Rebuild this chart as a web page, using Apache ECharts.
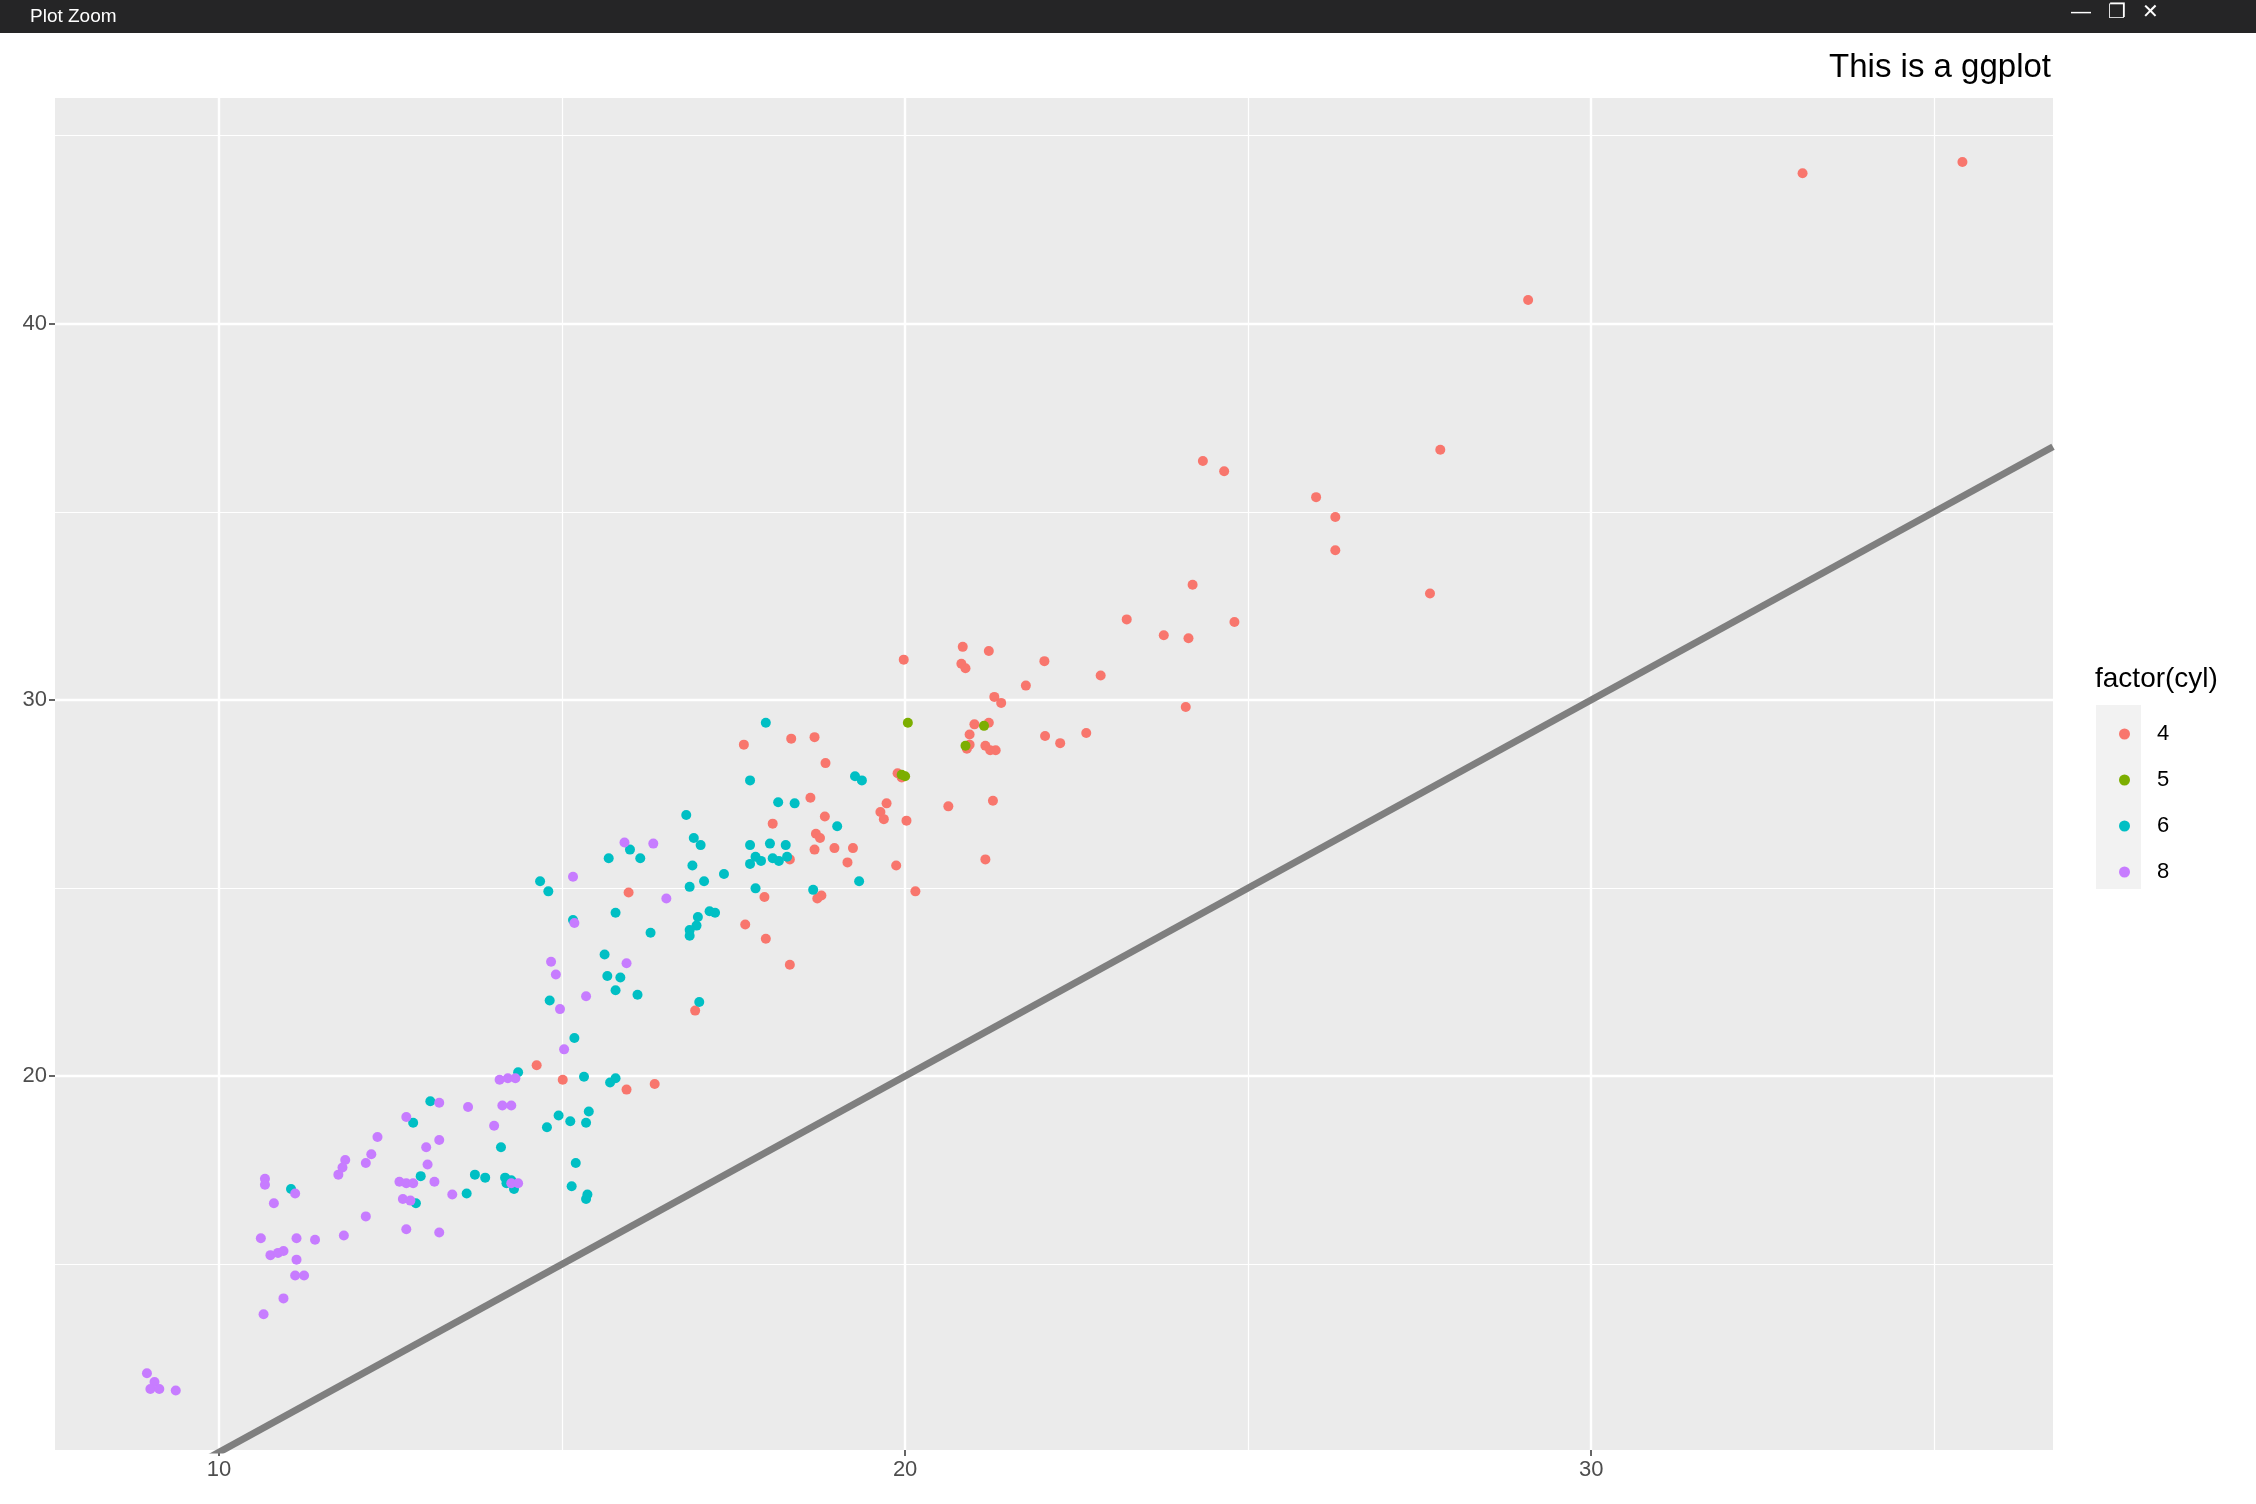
<!DOCTYPE html>
<html>
<head>
<meta charset="utf-8">
<script src="https://cdn.jsdelivr.net/npm/echarts@6/dist/echarts.min.js"></script>
<style>
  html, body { margin: 0; padding: 0; background: #fff; }
  #main { width: 2256px; height: 1504px; }
</style>
</head>
<body>
<div id="main"></div>
<script>
// 数据: x = cty, y = hwy (带抖动), 按 cyl 分组
var cyl4 = [[35.41,44.30],[33.08,44.00],[29.08,40.63],[27.80,36.65],[24.34,36.35],[24.65,36.08],[25.99,35.39],[26.27,34.86],
  [26.27,33.98],[27.65,32.83],[24.19,33.06],[23.23,32.14],[24.80,32.07],[23.77,31.72],[24.13,31.64],[22.85,30.65],[24.09,29.81],
  [19.98,31.07],[20.84,31.41],[21.22,31.30],[20.82,30.96],[20.88,30.84],[22.03,31.03],[21.76,30.38],[21.30,30.08],[21.40,29.92],
  [22.64,29.12],[22.04,29.04],[22.26,28.85],[21.01,29.35],[20.94,29.08],[21.22,29.39],[21.17,28.78],[21.32,28.66],[21.24,28.66],
  [20.94,28.81],[20.90,28.70],[17.65,28.81],[18.34,28.97],[18.68,29.01],[18.84,28.32],[19.89,28.05],[19.95,27.94],[21.28,27.32],
  [19.73,27.25],[19.64,27.02],[20.63,27.17],[20.02,26.79],[19.69,26.83],[18.62,27.40],[18.83,26.90],[18.07,26.71],[18.70,26.44],
  [18.76,26.33],[18.97,26.06],[19.24,26.06],[18.68,26.02],[18.32,25.76],[19.16,25.68],[19.87,25.60],[21.17,25.76],[20.15,24.91],
  [18.78,24.80],[18.72,24.72],[17.95,24.76],[15.97,24.88],[17.67,24.03],[17.97,23.65],[18.32,22.96],[16.94,21.74],[14.63,20.29],
  [15.01,19.90],[16.35,19.79],[15.94,19.64]];
var cyl5 = [[20.04,29.39],[20.00,27.97],[19.95,28.01],[20.88,28.78],[21.15,29.31]];
var cyl6 = [[17.97,29.39],[17.74,27.86],[18.15,27.28],[18.39,27.25],[19.27,27.97],[19.37,27.86],[19.01,26.64],[16.81,26.94],
  [16.92,26.33],[17.02,26.14],[17.74,26.14],[18.03,26.18],[18.26,26.14],[17.74,25.64],[17.82,25.83],[17.90,25.72],[18.07,25.79],
  [18.16,25.72],[18.28,25.83],[17.36,25.37],[17.07,25.18],[16.90,25.60],[17.82,24.99],[18.66,24.95],[19.33,25.18],[16.86,25.03],
  [15.99,26.02],[15.68,25.79],[16.14,25.79],[14.68,25.18],[14.80,24.91],[15.78,24.34],[15.16,24.15],[16.29,23.81],[16.98,24.23],
  [17.15,24.38],[17.23,24.34],[16.96,24.00],[16.86,23.73],[16.86,23.88],[15.62,23.23],[15.85,22.62],[15.66,22.66],[15.78,22.28],
  [16.10,22.16],[14.82,22.01],[17.00,21.97],[15.18,21.01],[14.36,20.10],[15.32,19.98],[15.78,19.94],[15.70,19.83],[14.95,18.95],
  [15.12,18.80],[15.39,19.06],[15.35,18.76],[14.78,18.64],[14.11,18.11],[15.20,17.69],[15.14,17.07],[15.37,16.85],[15.35,16.73],
  [12.83,18.76],[13.08,19.33],[12.94,17.34],[12.87,16.62],[11.05,17.00],[13.73,17.38],[13.88,17.30],[13.61,16.88],[14.17,17.30],
  [14.26,17.23],[14.30,17.00],[14.19,17.15]];
var cyl8 = [[15.91,26.21],[16.33,26.18],[16.52,24.72],[15.16,25.30],[15.18,24.07],[14.84,23.04],[14.91,22.70],[15.35,22.12],
  [14.97,21.78],[15.94,23.00],[15.03,20.71],[14.09,19.90],[14.21,19.94],[14.32,19.94],[14.13,19.22],[14.26,19.22],[13.63,19.18],
  [13.21,19.29],[14.01,18.68],[13.21,18.30],[13.02,18.11],[13.04,17.65],[12.73,18.91],[12.31,18.38],[12.22,17.92],[12.14,17.69],
  [11.84,17.77],[11.80,17.57],[11.74,17.38],[12.63,17.19],[12.73,17.15],[12.83,17.15],[13.14,17.19],[12.68,16.73],[12.79,16.69],
  [13.40,16.85],[14.26,17.15],[14.36,17.15],[12.14,16.27],[12.73,15.93],[13.21,15.84],[11.82,15.76],[10.80,16.62],[10.67,17.27],
  [10.67,17.11],[11.11,16.88],[10.61,15.69],[11.13,15.69],[11.40,15.65],[10.75,15.24],[10.86,15.30],[10.94,15.35],[11.13,15.12],
  [11.11,14.70],[11.24,14.70],[10.94,14.09],[10.65,13.67],[8.95,12.10],[9.06,11.87],[9.00,11.68],[9.13,11.68],[9.37,11.64]];
var cylNames = ['4', '5', '6', '8'];
var cylColors = ['#F8766D', '#7CAE00', '#00BFC4', '#C77CFF'];
var xRange = [7.61, 36.73];
var yRange = [10.06, 46.0];
var xMajor = [10, 20, 30], xMinor = [15, 25, 35];
var yMajor = [20, 30, 40], yMinor = [15, 25, 35, 45];
var ablineData = [[xRange[0], xRange[0]], [xRange[1], xRange[1]]];

var myChart = echarts.init(document.getElementById('main'));

function gridLines(vals, key, width) {
  return vals.map(function (v) {
    var o = { lineStyle: { color: '#FFFFFF', width: width, type: 'solid' } };
    o[key] = v;
    return o;
  });
}

var series = [{
  // 网格线
  type: 'line', data: [], silent: true, z: 0,
  markLine: {
    symbol: 'none', silent: true, label: { show: false }, animation: false, z: 0,
    data: gridLines(xMinor, 'xAxis', 1.2).concat(gridLines(yMinor, 'yAxis', 1.2))
      .concat(gridLines(xMajor, 'xAxis', 2.4)).concat(gridLines(yMajor, 'yAxis', 2.4))
  }
}];
[cyl4, cyl5, cyl6, cyl8].forEach(function (d, i) {
  series.push({
    name: cylNames[i], type: 'scatter', data: d, symbolSize: 10, z: 3,
    itemStyle: { color: cylColors[i], opacity: 1 }
  });
});
series.push({
  type: 'line', data: ablineData, symbol: 'none', silent: true, clip: true,
  lineStyle: { color: '#7F7F7F', width: 7 }, z: 5
});

var axisCommon = {
  axisLine: { show: false },
  splitLine: { show: false },
  axisTick: { show: true, length: 6, lineStyle: { color: '#333333', width: 1.5 } },
  axisLabel: { color: '#4D4D4D', fontSize: 22, fontFamily: 'Liberation Sans' }
};

option = {
  animation: false,
  backgroundColor: '#FFFFFF',
  title: {
    text: 'This is a ggplot', right: 200, top: 46,
    textStyle: { fontSize: 33, fontWeight: 'normal', color: '#000', fontFamily: 'Liberation Sans' }
  },
  grid: { left: 55, right: 203, top: 98, bottom: 54, show: true, backgroundColor: '#EBEBEB', borderWidth: 0 },
  xAxis: Object.assign({}, axisCommon, {
    type: 'value', min: xRange[0], max: xRange[1],
    axisTick: Object.assign({}, axisCommon.axisTick, { customValues: xMajor }),
    axisLabel: Object.assign({}, axisCommon.axisLabel, { customValues: xMajor, margin: 9 })
  }),
  yAxis: Object.assign({}, axisCommon, {
    type: 'value', min: yRange[0], max: yRange[1],
    axisTick: Object.assign({}, axisCommon.axisTick, { customValues: yMajor }),
    axisLabel: Object.assign({}, axisCommon.axisLabel, { customValues: yMajor, margin: 8 })
  }),
  legend: {
    data: cylNames, orient: 'vertical', left: 2114, top: 718,
    icon: 'circle', itemWidth: 11, itemHeight: 11, itemGap: 24,
    textStyle: { fontSize: 22, color: '#000', fontFamily: 'Liberation Sans', padding: [0, 0, 0, 22] }
  },
  graphic: [
    { type: 'rect', shape: { x: 0, y: 0, width: 2256, height: 33 }, style: { fill: '#252526' } },
    { type: 'text', left: 30, top: 7, style: { text: 'Plot Zoom', fill: '#FFFFFF', fontSize: 19, fontFamily: 'Liberation Sans' } },
    { type: 'text', left: 2071, top: 2, style: { text: '—   ❐   ✕', fill: '#FFFFFF', fontSize: 20 } },
    { type: 'text', left: 2095, top: 665, style: { text: 'factor(cyl)', fill: '#000', fontSize: 28, fontFamily: 'Liberation Sans' } },
    { type: 'rect', z: -1, shape: { x: 2096, y: 705, width: 45, height: 184 }, style: { fill: '#F2F2F2' } }
  ],
  series: series
};
myChart.setOption(option);
</script>
</body>
</html>
